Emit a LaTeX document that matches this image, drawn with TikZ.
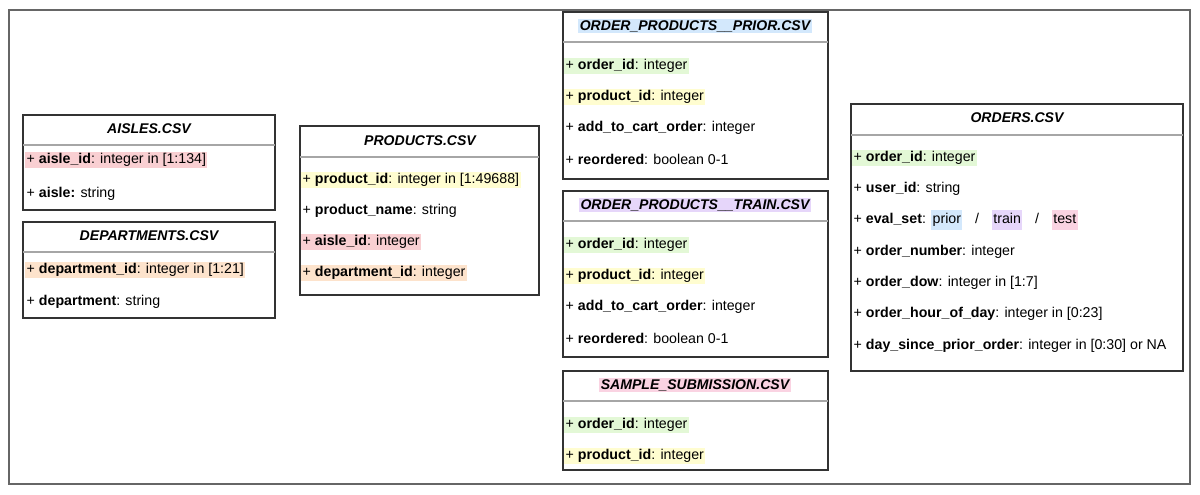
\documentclass[tikz,border=0pt]{standalone}
\usepackage{fontspec}
\setmainfont{Liberation Sans}
\definecolor{hlred}{HTML}{F9CFD2}
\definecolor{hlyellow}{HTML}{FFFDD0}
\definecolor{hlorange}{HTML}{FDE3CC}
\definecolor{hlgreen}{HTML}{E3F8D6}
\definecolor{hlblue}{HTML}{D3E8FC}
\definecolor{hlpurple}{HTML}{E6D6FA}
\definecolor{hlpink}{HTML}{FAD3E2}
\setlength{\fboxsep}{1pt}
\tikzset{
  tablebox/.style={draw=black!80, line width=0.9pt},
  headrule/.style={draw=black!35, line width=0.9pt},
  title/.style={font=\fontsize{10}{12}\selectfont\bfseries\itshape, inner sep=1pt},
  field/.style={font=\fontsize{10.1}{12}\selectfont, anchor=west, inner sep=1pt},
}
% one table: left, top, right, bottom, rule y
\newcommand{\csvtable}[5]{
  \draw[tablebox] (#1,#2) rectangle (#3,#4);
  \draw[headrule] (#1,#5) -- (#3,#5);
}
\begin{document}
\begin{tikzpicture}[x=0.025cm, y=-0.025cm]
  \useasboundingbox (0,0) rectangle (1200,494);
  \draw[black!60, line width=0.9pt] (9,10) rectangle (1190,484);

  % aisles
  \csvtable{23}{115}{275}{210}{145}
  \node[title] (aisles) at (149,129) {AISLES.CSV};
  \node[field, fill=hlred] (aisles-1) at (25,160) {+ \textbf{aisle\_id}: integer in [1:134]};
  \node[field] (aisles-2) at (25,194) {+ \textbf{aisle:} string};

  % departments
  \csvtable{23}{222}{275}{318}{252}
  \node[title] (departments) at (149,236) {DEPARTMENTS.CSV};
  \node[field, fill=hlorange] (departments-1) at (25,270) {+ \textbf{department\_id}: integer in [1:21]};
  \node[field] (departments-2) at (25,302) {+ \textbf{department}: string};

  % products
  \csvtable{300}{126}{539}{295}{157}
  \node[title] (products) at (420,141) {PRODUCTS.CSV};
  \node[field, fill=hlyellow] (products-1) at (301,180) {+ \textbf{product\_id}: integer in [1:49688]};
  \node[field] (products-2) at (301,211) {+ \textbf{product\_name}: string};
  \node[field, fill=hlred] (products-3) at (301,242) {+ \textbf{aisle\_id}: integer};
  \node[field, fill=hlorange] (products-4) at (301,273) {+ \textbf{department\_id}: integer};

  % order_products__prior
  \csvtable{563}{12}{828}{179}{42}
  \node[title, fill=hlblue] (prior) at (695,26) {ORDER\_PRODUCTS\_\_PRIOR.CSV};
  \node[field, fill=hlgreen] (prior-1) at (564,66) {+ \textbf{order\_id}: integer};
  \node[field, fill=hlyellow] (prior-2) at (564,97) {+ \textbf{product\_id}: integer};
  \node[field] (prior-3) at (564,128) {+ \textbf{add\_to\_cart\_order}: integer};
  \node[field] (prior-4) at (564,159) {+ \textbf{reordered}: boolean 0-1};

  % order_products__train
  \csvtable{563}{191}{828}{357}{221}
  \node[title, fill=hlpurple] (train) at (695,205) {ORDER\_PRODUCTS\_\_TRAIN.CSV};
  \node[field, fill=hlgreen] (train-1) at (564,245) {+ \textbf{order\_id}: integer};
  \node[field, fill=hlyellow] (train-2) at (564,276) {+ \textbf{product\_id}: integer};
  \node[field] (train-3) at (564,307) {+ \textbf{add\_to\_cart\_order}: integer};
  \node[field] (train-4) at (564,338) {+ \textbf{reordered}: boolean 0-1};

  % sample_submission
  \csvtable{563}{371}{828}{470}{401}
  \node[title, fill=hlpink] (sample) at (695,385) {SAMPLE\_SUBMISSION.CSV};
  \node[field, fill=hlgreen] (sample-1) at (564,425) {+ \textbf{order\_id}: integer};
  \node[field, fill=hlyellow] (sample-2) at (564,456) {+ \textbf{product\_id}: integer};

  % orders
  \csvtable{851}{104}{1183}{371}{135}
  \node[title] (orders) at (1017,118) {ORDERS.CSV};
  \node[field, fill=hlgreen] (orders-1) at (852,158) {+ \textbf{order\_id}: integer};
  \node[field] (orders-2) at (852,189) {+ \textbf{user\_id}: string};
  \node[field] (orders-3) at (852,220) {+ \textbf{eval\_set}: \colorbox{hlblue}{\strut prior}\hspace{0.9em}/\hspace{0.9em}\colorbox{hlpurple}{\strut train}\hspace{0.9em}/\hspace{0.9em}\colorbox{hlpink}{\strut test}};
  \node[field] (orders-4) at (852,252) {+ \textbf{order\_number}: integer};
  \node[field] (orders-5) at (852,283) {+ \textbf{order\_dow}: integer in [1:7]};
  \node[field] (orders-6) at (852,314) {+ \textbf{order\_hour\_of\_day}: integer in [0:23]};
  \node[field] (orders-7) at (852,346) {+ \textbf{day\_since\_prior\_order}: integer in [0:30] or NA};
\end{tikzpicture}
\end{document}
